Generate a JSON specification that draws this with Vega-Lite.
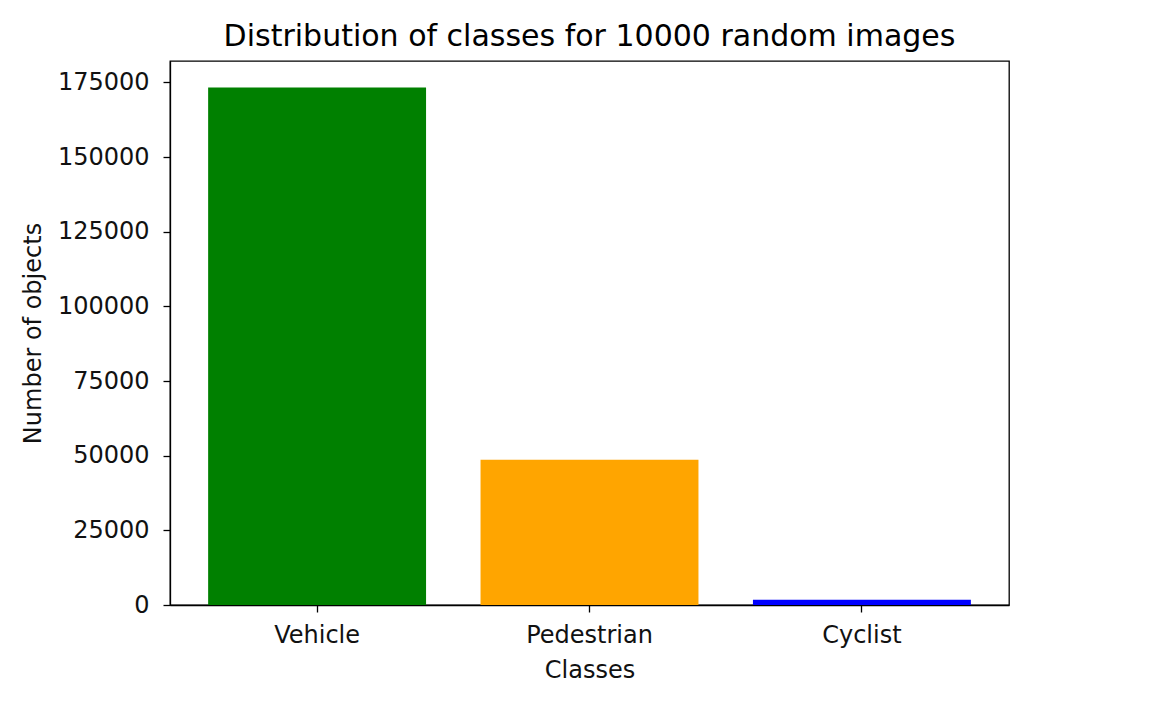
{
  "$schema": "https://vega.github.io/schema/vega-lite/v6.json",
  "autosize": {"type": "none"},
  "padding": {"left": 170, "top": 61, "right": 140, "bottom": 101},
  "width": 839,
  "height": 544,
  "background": "white",
  "title": {
    "text": "Distribution of classes for 10000 random images",
    "font": "DejaVu Sans", "fontSize": 30, "fontWeight": "normal",
    "color": "black", "offset": 9, "anchor": "middle"
  },
  "config": {
    "font": "DejaVu Sans",
    "view": {"stroke": "black", "strokeWidth": 1.3},
    "axis": {
      "grid": false, "domainColor": "black", "domainWidth": 1.3,
      "tickColor": "black", "tickWidth": 1.3, "tickSize": 7,
      "labelFont": "DejaVu Sans", "labelFontSize": 24, "labelColor": "#111111",
      "titleFont": "DejaVu Sans", "titleFontSize": 24, "titleFontWeight": "normal", "titleColor": "#111111"
    }
  },
  "data": {
    "values": [
      {"class": "Vehicle", "count": 173300},
      {"class": "Pedestrian", "count": 48650},
      {"class": "Cyclist", "count": 1800}
    ]
  },
  "mark": {"type": "bar"},
  "encoding": {
    "x": {
      "field": "class", "type": "nominal", "sort": null,
      "scale": {"paddingInner": 0.2, "paddingOuter": 0.14},
      "axis": {"title": "Classes", "labelAngle": 0, "labelPadding": 11, "titlePadding": 11}
    },
    "y": {
      "field": "count", "type": "quantitative",
      "scale": {"domain": [0, 182200], "nice": false},
      "axis": {
        "title": "Number of objects",
        "values": [0, 25000, 50000, 75000, 100000, 125000, 150000, 175000],
        "format": "d", "labelPadding": 14, "titlePadding": 12
      }
    },
    "color": {
      "field": "class", "type": "nominal",
      "scale": {"domain": ["Vehicle", "Pedestrian", "Cyclist"], "range": ["#008000", "#FFA500", "#0000FF"]},
      "legend": null
    }
  }
}
